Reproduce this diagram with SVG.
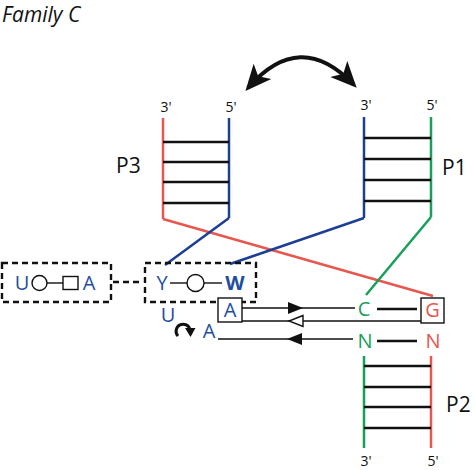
<svg xmlns="http://www.w3.org/2000/svg" width="474" height="470" viewBox="0 0 474 470">
<defs>
<style>
text{font-family:"Open Sans","Liberation Sans",sans-serif}
.lbl{font-size:14px;fill:#111;text-anchor:middle}
.big{font-size:21px;fill:#111}
.red{stroke:#e8574f;stroke-width:2.5;fill:none}
.blue{stroke:#1d3f93;stroke-width:2.5;fill:none}
.green{stroke:#17a05a;stroke-width:2.5;fill:none}
.rung{stroke:#111;stroke-width:2.5}
.bt{fill:#1f4ea0;font-size:20px;text-anchor:middle}
.dash{fill:none;stroke:#111;stroke-width:2.4;stroke-dasharray:6,4}
.thin{stroke:#111;stroke-width:1.6;fill:none}
.box{fill:#fff;stroke:#111;stroke-width:1.4}
</style>
<marker id="bigArrow" viewBox="0 0 20 20" refX="17" refY="10" markerWidth="26" markerHeight="26" markerUnits="userSpaceOnUse" orient="auto-start-reverse">
<path d="M0,1 L20,10 L0,19 L5,10 Z" fill="#111"/>
</marker>
</defs>
<rect width="474" height="470" fill="#fff"/>
<text x="2" y="22" font-size="21" font-style="italic" fill="#111">Family C</text>

<g id="swap-arrow">
<path d="M248,88 Q300,28 354,85" fill="none" stroke="#111" stroke-width="3.8" marker-start="url(#bigArrow)" marker-end="url(#bigArrow)"/>
</g>

<g id="P3">
<text class="lbl" x="166" y="112">3'</text>
<text class="lbl" x="231" y="112">5'</text>
<line class="red" x1="163" y1="118" x2="163" y2="219"/>
<line class="blue" x1="229" y1="118" x2="229" y2="218"/>
<line class="rung" x1="163" y1="142" x2="229" y2="142"/>
<line class="rung" x1="163" y1="162" x2="229" y2="162"/>
<line class="rung" x1="163" y1="182" x2="229" y2="182"/>
<line class="rung" x1="163" y1="203" x2="229" y2="203"/>
<text class="big" x="116" y="173">P3</text>
</g>

<g id="P1">
<text class="lbl" x="366" y="110">3'</text>
<text class="lbl" x="432" y="110">5'</text>
<line class="blue" x1="364" y1="117" x2="364" y2="218"/>
<line class="green" x1="431" y1="117" x2="431" y2="217"/>
<line class="rung" x1="364" y1="138" x2="431" y2="138"/>
<line class="rung" x1="364" y1="159" x2="431" y2="159"/>
<line class="rung" x1="364" y1="180" x2="431" y2="180"/>
<line class="rung" x1="364" y1="201" x2="431" y2="201"/>
<text class="big" x="442" y="175">P1</text>
</g>

<g id="P2">
<line class="green" x1="364" y1="356" x2="364" y2="448"/>
<line class="red" x1="431" y1="356" x2="431" y2="448"/>
<line class="rung" x1="364" y1="366" x2="431" y2="366"/>
<line class="rung" x1="364" y1="387" x2="431" y2="387"/>
<line class="rung" x1="364" y1="407" x2="431" y2="407"/>
<line class="rung" x1="364" y1="428" x2="431" y2="428"/>
<text class="lbl" x="366" y="466">3'</text>
<text class="lbl" x="433" y="466">5'</text>
<text class="big" x="446" y="412">P2</text>
</g>

<g id="connectors">
<line class="red" x1="163" y1="219" x2="433" y2="296"/>
<line class="blue" x1="229" y1="218" x2="165" y2="265"/>
<line class="blue" x1="364" y1="218" x2="230" y2="264"/>
<line class="green" x1="431" y1="217" x2="366" y2="295"/>
<line class="dash" x1="113" y1="282" x2="143" y2="282"/>
<line class="thin" x1="242" y1="308" x2="355" y2="308"/>
<polygon points="288,302 303,308 288,314" fill="#111"/>
<line class="thin" x1="242" y1="321" x2="421" y2="321"/>
<polygon points="303,315.5 289,321 303,326.5" fill="#fff" stroke="#111" stroke-width="1.4"/>
<line class="thin" x1="218" y1="339" x2="353" y2="339"/>
<polygon points="302,333 287,339 302,345" fill="#111"/>
<line x1="377" y1="309" x2="417" y2="309" stroke="#111" stroke-width="2.5"/>
<line x1="377" y1="341" x2="417" y2="341" stroke="#111" stroke-width="2.5"/>
</g>

<g id="box-left">
<rect class="dash" x="2" y="263" width="109" height="39"/>
<text class="bt" x="22" y="290">U</text>
<circle cx="39.5" cy="283" r="7.5" fill="#fff" stroke="#111" stroke-width="1.4"/>
<line x1="47" y1="283" x2="63" y2="283" stroke="#111" stroke-width="1.4"/>
<rect x="63" y="276.5" width="15" height="13" fill="#fff" stroke="#111" stroke-width="1.4"/>
<text class="bt" x="89" y="290">A</text>
</g>

<g id="box-right">
<rect class="dash" x="145" y="263" width="111" height="39"/>
<text class="bt" x="162" y="290">Y</text>
<line x1="170" y1="283" x2="187" y2="283" stroke="#111" stroke-width="1.4"/>
<circle cx="195.5" cy="283" r="8.5" fill="#fff" stroke="#111" stroke-width="1.4"/>
<line x1="204" y1="283" x2="222" y2="283" stroke="#111" stroke-width="1.4"/>
<text class="bt" x="235" y="290" font-weight="bold">W</text>
</g>

<g id="A-box">
<rect class="box" x="218" y="298" width="24" height="24"/>
<text class="bt" x="230" y="317" font-size="18">A</text>
</g>

<g id="U-A">
<text class="bt" x="168" y="322" font-size="19">U</text>
<path d="M178,336 A7,7 0 1 1 190,330" fill="none" stroke="#111" stroke-width="3"/>
<polygon points="185,328 195.5,328 190.5,337" fill="#111"/>
<text class="bt" x="209" y="338" font-size="19">A</text>
</g>

<g id="C-node"><text x="364" y="316" font-size="20" fill="#17a05a" text-anchor="middle">C</text></g>
<g id="G-node">
<rect class="box" x="421" y="298" width="23" height="25"/>
<text x="432.5" y="317" font-size="20" fill="#e8574f" text-anchor="middle">G</text>
</g>
<g id="N-green"><text x="365" y="348" font-size="20" fill="#17a05a" text-anchor="middle">N</text></g>
<g id="N-red"><text x="433" y="348" font-size="20" fill="#e8574f" text-anchor="middle">N</text></g>
</svg>
